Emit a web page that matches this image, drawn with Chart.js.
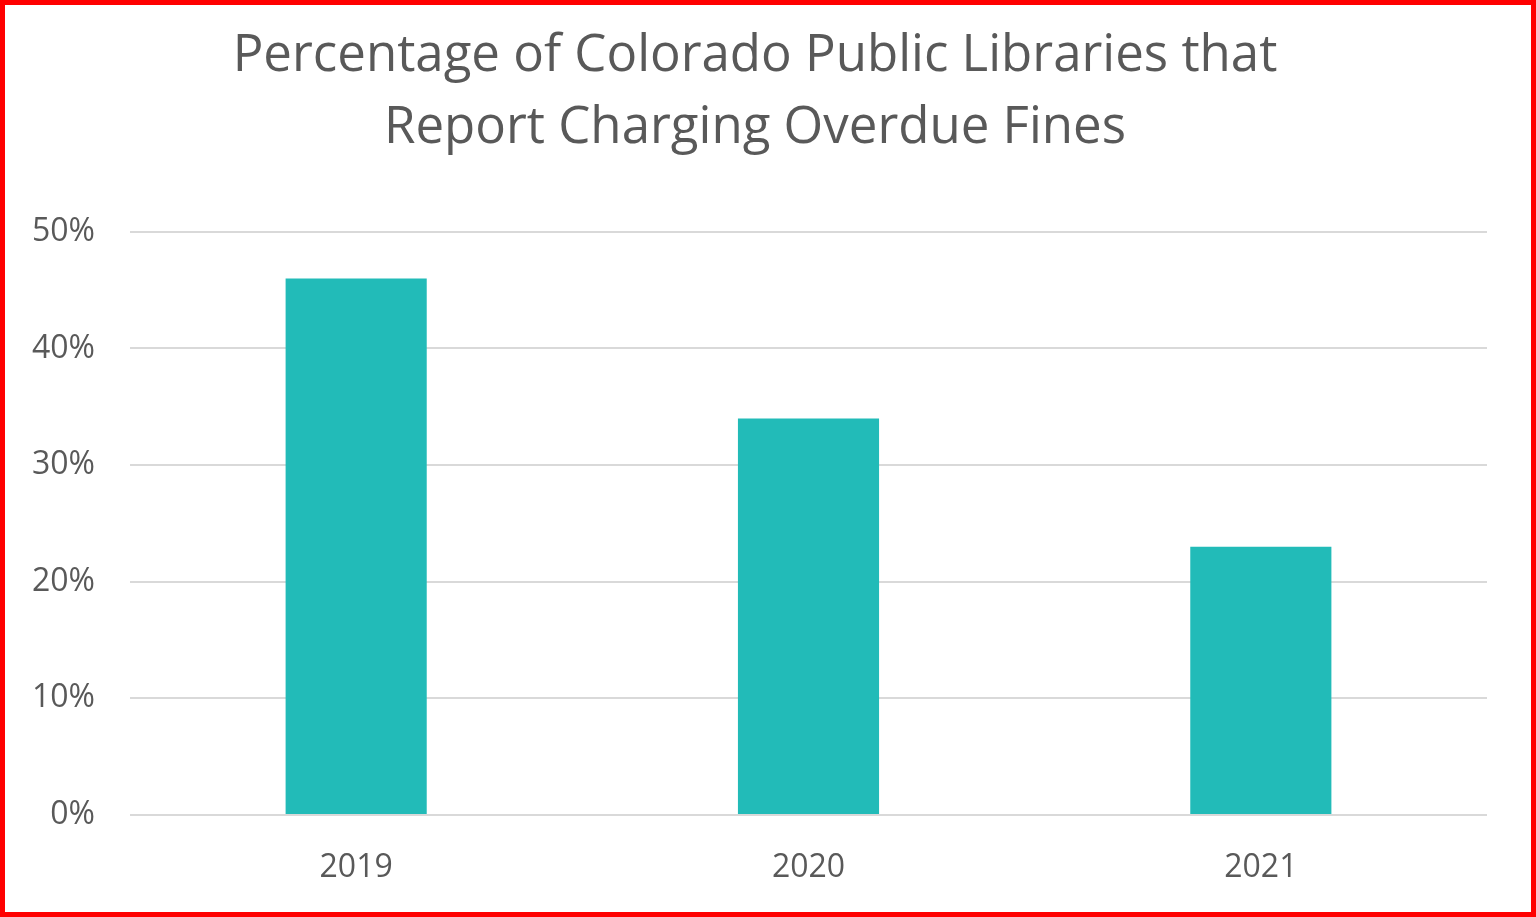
<!DOCTYPE html>
<html lang="en">
<head>
  <meta charset="UTF-8">
  <title>Colorado Public Libraries Overdue Fines</title>
  <script src="https://cdn.jsdelivr.net/npm/chart.js"></script>
  <style>
    html, body {
      margin: 0;
      padding: 0;
      background: #ffffff;
    }
    #frame {
      box-sizing: border-box;
      width: 1536px;
      height: 917px;
      border: 5px solid #ff0000;
      background: #ffffff;
    }
    #chart-box {
      position: relative;
      width: 1526px;
      height: 907px;
    }
  </style>
</head>
<body>
  <div id="frame">
    <div id="chart-box">
      <canvas id="finesChart"></canvas>
    </div>
  </div>

  <script>
    const titleLines = ['Percentage of Colorado Public Libraries that', 'Report Charging Overdue Fines'];
    const years = ['2019', '2020', '2021'];
    const pctCharging = [46, 34, 23];
    const yTicks = [0, 10, 20, 30, 40, 50];

    const textGray = '#595959';
    const fontFamily = "'Open Sans', 'Noto Sans', sans-serif";

    Chart.defaults.font.family = fontFamily;
    Chart.defaults.color = textGray;

    new Chart(document.getElementById('finesChart'), {
      type: 'bar',
      data: {
        labels: years,
        datasets: [{
          label: 'Charging overdue fines',
          data: pctCharging,
          backgroundColor: '#22bbb8',
          borderWidth: 0,
          categoryPercentage: 1,
          barPercentage: 0.312
        }]
      },
      options: {
        responsive: true,
        maintainAspectRatio: false,
        animation: false,
        layout: { padding: { left: 18, right: 44, top: 0, bottom: 0 } },
        plugins: {
          legend: { display: false },
          tooltip: { enabled: false },
          title: {
            display: true,
            text: titleLines,
            color: textGray,
            font: { size: 51, weight: 'normal', lineHeight: 1.41 },
            padding: { top: 16, bottom: 67 }
          }
        },
        scales: {
          x: {
            grid: { display: false, drawTicks: false },
            border: { display: false },
            ticks: { font: { size: 32 }, color: textGray, padding: 34 },
            afterFit: s => { s.height = 97; }
          },
          y: {
            min: 0,
            max: 50,
            afterBuildTicks: s => { s.ticks = yTicks.map(v => ({ value: v })); },
            grid: { color: '#d9d9d9', lineWidth: 2, drawTicks: false },
            border: { display: false },
            ticks: {
              font: { size: 32 },
              color: textGray,
              padding: 35,
              callback: v => v + '%'
            },
            afterFit: s => { s.width = 107; }
          }
        }
      }
    });
  </script>
</body>
</html>
